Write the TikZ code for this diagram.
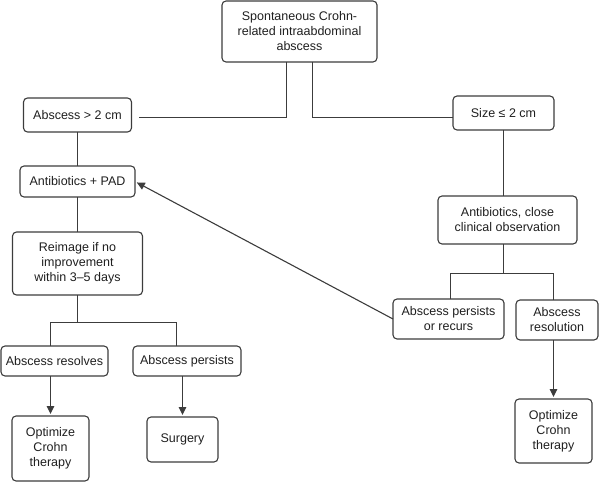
\documentclass[tikz,border=0pt]{standalone}
\usepackage{fontspec}
\setmainfont{Liberation Sans}
\usetikzlibrary{arrows.meta,positioning}
\definecolor{linegray}{HTML}{3C3C3C}

\begin{document}
\begin{tikzpicture}[
x=1bp, y=-1bp,
font=\fontsize{12.5bp}{15bp}\selectfont,
    X/.style = {rectangle, draw=linegray, rounded corners=4bp,% boxes of the chart
                line width=1.1bp, align=center, inner sep=0pt,
                outer sep=0pt, text=black!88},
    L/.style = {draw=linegray, line width=1.1bp},% plain links
    A/.style = {L, -{Triangle[width=7.5bp,length=8bp]}, shorten >=2bp},
                        ]
\useasboundingbox (0,0) rectangle (599,482);
% boxes
\node[X, minimum width=155bp, minimum height=61bp] (top) at (299.5,31.5) {Spontaneous Crohn-\\related intraabdominal\\abscess};
\node[X, minimum width=108bp, minimum height=34bp] (big) at (77.5,115) {Abscess > 2 cm};
\node[X, minimum width=101bp, minimum height=34bp] (small) at (503.5,113) {Size ≤ 2 cm};
\node[X, minimum width=115bp, minimum height=31bp] (pad) at (77.5,181.5) {Antibiotics + PAD};
\node[X, minimum width=130bp, minimum height=63bp] (reimg) at (77.5,263.5) {Reimage if no\\improvement\\within 3--5 days};
\node[X, minimum width=107bp, minimum height=30bp] (resolves) at (54.5,361) {Abscess resolves};
\node[X, minimum width=108bp, minimum height=30bp] (persists) at (187,361) {Abscess persists};
\node[X, minimum width=77bp, minimum height=65bp] (optA) at (50.5,448.5) {Optimize\\Crohn\\therapy};
\node[X, minimum width=71bp, minimum height=45bp] (surgery) at (182.5,439.5) {Surgery};
\node[X, minimum width=139bp, minimum height=48bp] (observe) at (507.5,220) {Antibiotics, close\\clinical observation};
\node[X, minimum width=111bp, minimum height=40bp] (recurs) at (448.5,319) {Abscess persists\\or recurs};
\node[X, minimum width=82bp, minimum height=40bp] (resol) at (557,320) {Abscess\\resolution};
\node[X, minimum width=77bp, minimum height=64bp] (optB) at (553.5,431) {Optimize\\Crohn\\therapy};
% links
\coordinate (forkA) at (77.5,322.5);
\coordinate (forkB) at (503.5,273.5);
\draw[L] ([xshift=-13bp] top.south) |- ([xshift=7bp,yshift=-2.5bp] big.east);
\draw[L] ([xshift=13bp] top.south) |- ([yshift=-4.5bp] small.west);
\draw[L] (big) -- (pad);
\draw[L] (pad) -- (reimg);
\draw[L] (reimg) -- (forkA);
\draw[L] ([xshift=-4bp] resolves.north) |- (forkA) -| ([xshift=-10.5bp] persists.north);
\draw[A] (resolves.south -| optA) -- (optA);
\draw[A] (persists.south -| surgery) -- (surgery);
\draw[L] (small) -- (small |- observe.north);
\draw[L] (observe.south -| forkB) -- (forkB);
\draw[L] ([xshift=2bp] recurs.north) |- (forkB) -| ([xshift=-3.5bp] resol.north);
\draw[A] (resol.south -| optB) -- (optB);
\draw[A] (recurs.west) -- (pad.east);
\end{tikzpicture}
\end{document}
